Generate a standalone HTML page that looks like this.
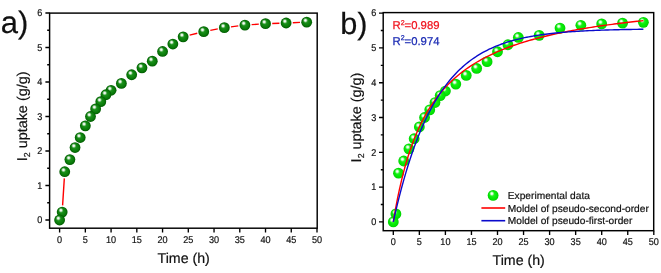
<!DOCTYPE html>
<html><head><meta charset="utf-8"><title>I2 uptake kinetics</title>
<style>html,body{margin:0;padding:0;background:#fff;}svg{display:block;}text{text-rendering:geometricPrecision;font-family:"Liberation Sans", Arial, sans-serif;fill:#111;stroke:#111;stroke-width:0.2px;}</style></head><body>
<svg width="661" height="273" viewBox="0 0 661 273">
<defs>
<radialGradient id="gd" cx="0.5" cy="0.5" r="0.5" fx="0.42" fy="0.38">
<stop offset="0" stop-color="#3aa63a"/><stop offset="0.4" stop-color="#168c16"/><stop offset="0.75" stop-color="#0a7a0a"/><stop offset="1" stop-color="#005a00"/>
</radialGradient>
<radialGradient id="hl"><stop offset="0" stop-color="#fff" stop-opacity="1"/><stop offset="0.35" stop-color="#fff" stop-opacity="0.85"/><stop offset="0.7" stop-color="#fff" stop-opacity="0.3"/><stop offset="1" stop-color="#fff" stop-opacity="0"/></radialGradient>
<g id="sd"><circle r="5.4" fill="url(#gd)"/><circle cx="-1.3" cy="-1.8" r="2.6" fill="url(#hl)"/></g>
<radialGradient id="gl" cx="0.5" cy="0.5" r="0.5" fx="0.42" fy="0.38">
<stop offset="0" stop-color="#3cf53c"/><stop offset="0.5" stop-color="#0aee0a"/><stop offset="0.85" stop-color="#02e002"/><stop offset="1" stop-color="#00cc00"/>
</radialGradient>
<g id="sl"><circle r="5.4" fill="url(#gl)"/><circle cx="-1.3" cy="-1.8" r="2.7" fill="url(#hl)"/></g>
</defs>
<rect width="661" height="273" fill="#ffffff"/>
<rect x="49.60" y="13.10" width="267.60" height="215.10" fill="none" stroke="#000" stroke-width="1.45"/>
<path d="M59.60 228.20v4.2M85.34 228.20v4.2M111.08 228.20v4.2M136.82 228.20v4.2M162.56 228.20v4.2M188.30 228.20v4.2M214.04 228.20v4.2M239.78 228.20v4.2M265.52 228.20v4.2M291.26 228.20v4.2M317.00 228.20v4.2M49.60 220.00h-4.2M49.60 185.50h-4.2M49.60 151.00h-4.2M49.60 116.50h-4.2M49.60 82.00h-4.2M49.60 47.50h-4.2M49.60 13.00h-4.2M49.60 202.75h-2.4M49.60 168.25h-2.4M49.60 133.75h-2.4M49.60 99.25h-2.4M49.60 64.75h-2.4M49.60 30.25h-2.4" stroke="#000" stroke-width="1.35" fill="none"/>
<g font-size="9.8" text-anchor="middle">
<text transform="translate(59.60 242.90) scale(0.93 1)">0</text>
<text transform="translate(85.34 242.90) scale(0.93 1)">5</text>
<text transform="translate(111.08 242.90) scale(0.93 1)">10</text>
<text transform="translate(136.82 242.90) scale(0.93 1)">15</text>
<text transform="translate(162.56 242.90) scale(0.93 1)">20</text>
<text transform="translate(188.30 242.90) scale(0.93 1)">25</text>
<text transform="translate(214.04 242.90) scale(0.93 1)">30</text>
<text transform="translate(239.78 242.90) scale(0.93 1)">35</text>
<text transform="translate(265.52 242.90) scale(0.93 1)">40</text>
<text transform="translate(291.26 242.90) scale(0.93 1)">45</text>
<text transform="translate(317.00 242.90) scale(0.93 1)">50</text>
</g>
<g font-size="9.8" text-anchor="end">
<text transform="translate(42.40 223.23) scale(0.93 1)">0</text>
<text transform="translate(42.40 188.73) scale(0.93 1)">1</text>
<text transform="translate(42.40 154.23) scale(0.93 1)">2</text>
<text transform="translate(42.40 119.73) scale(0.93 1)">3</text>
<text transform="translate(42.40 85.23) scale(0.93 1)">4</text>
<text transform="translate(42.40 50.73) scale(0.93 1)">5</text>
<text transform="translate(42.40 16.23) scale(0.93 1)">6</text>
</g>
<text transform="translate(183.70 262.50) scale(1.0 1)" font-size="14.2" stroke-width="0.3" text-anchor="middle">Time (h)</text>
<text transform="translate(27.30 116.40) rotate(-90) scale(1.015 1)" font-size="14.2" stroke-width="0.3" text-anchor="middle">I<tspan font-size="8.7" dy="3">2</tspan><tspan dy="-3"> uptake (g/g)</tspan></text>
<text x="0.80" y="33.20" font-size="31.0" stroke-width="0.4">a)</text>
<path d="M62.60 205.38L64.32 178.39M189.65 35.17L197.25 33.26M210.32 30.36L217.76 28.93M230.98 26.83L238.28 25.91M251.61 24.63L258.83 24.14M272.22 23.47L279.42 23.23M292.81 22.72L300.01 22.42" stroke="#ff0000" stroke-width="1.4" fill="none"/>
<use href="#sd" x="306.70" y="22.14"/>
<use href="#sd" x="286.11" y="23.00"/>
<use href="#sd" x="265.52" y="23.69"/>
<use href="#sd" x="244.93" y="25.07"/>
<use href="#sd" x="224.34" y="27.66"/>
<use href="#sd" x="203.74" y="31.63"/>
<use href="#sd" x="183.15" y="36.81"/>
<use href="#sd" x="172.86" y="44.05"/>
<use href="#sd" x="162.56" y="51.47"/>
<use href="#sd" x="152.26" y="61.13"/>
<use href="#sd" x="141.97" y="67.85"/>
<use href="#sd" x="131.67" y="74.75"/>
<use href="#sd" x="121.38" y="83.38"/>
<use href="#sd" x="111.08" y="90.28"/>
<use href="#sd" x="105.93" y="94.77"/>
<use href="#sd" x="100.78" y="101.66"/>
<use href="#sd" x="95.64" y="108.91"/>
<use href="#sd" x="90.49" y="116.50"/>
<use href="#sd" x="85.34" y="125.81"/>
<use href="#sd" x="80.19" y="137.55"/>
<use href="#sd" x="75.04" y="147.55"/>
<use href="#sd" x="69.90" y="159.62"/>
<use href="#sd" x="64.75" y="171.70"/>
<use href="#sd" x="62.17" y="212.06"/>
<use href="#sd" x="59.60" y="220.00"/>
<rect x="383.20" y="12.60" width="270.50" height="218.10" fill="none" stroke="#000" stroke-width="1.45"/>
<path d="M393.30 230.70v4.2M419.35 230.70v4.2M445.40 230.70v4.2M471.45 230.70v4.2M497.50 230.70v4.2M523.55 230.70v4.2M549.60 230.70v4.2M575.65 230.70v4.2M601.70 230.70v4.2M627.75 230.70v4.2M653.80 230.70v4.2M383.20 221.90h-4.2M383.20 187.10h-4.2M383.20 152.30h-4.2M383.20 117.50h-4.2M383.20 82.70h-4.2M383.20 47.90h-4.2M383.20 13.10h-4.2M383.20 204.50h-2.4M383.20 169.70h-2.4M383.20 134.90h-2.4M383.20 100.10h-2.4M383.20 65.30h-2.4M383.20 30.50h-2.4" stroke="#000" stroke-width="1.35" fill="none"/>
<g font-size="9.8" text-anchor="middle">
<text transform="translate(393.30 245.40) scale(0.93 1)">0</text>
<text transform="translate(419.35 245.40) scale(0.93 1)">5</text>
<text transform="translate(445.40 245.40) scale(0.93 1)">10</text>
<text transform="translate(471.45 245.40) scale(0.93 1)">15</text>
<text transform="translate(497.50 245.40) scale(0.93 1)">20</text>
<text transform="translate(523.55 245.40) scale(0.93 1)">25</text>
<text transform="translate(549.60 245.40) scale(0.93 1)">30</text>
<text transform="translate(575.65 245.40) scale(0.93 1)">35</text>
<text transform="translate(601.70 245.40) scale(0.93 1)">40</text>
<text transform="translate(627.75 245.40) scale(0.93 1)">45</text>
<text transform="translate(653.80 245.40) scale(0.93 1)">50</text>
</g>
<g font-size="9.8" text-anchor="end">
<text transform="translate(376.20 225.13) scale(0.93 1)">0</text>
<text transform="translate(376.20 190.33) scale(0.93 1)">1</text>
<text transform="translate(376.20 155.53) scale(0.93 1)">2</text>
<text transform="translate(376.20 120.73) scale(0.93 1)">3</text>
<text transform="translate(376.20 85.93) scale(0.93 1)">4</text>
<text transform="translate(376.20 51.13) scale(0.93 1)">5</text>
<text transform="translate(376.20 16.33) scale(0.93 1)">6</text>
</g>
<text transform="translate(518.70 264.90) scale(1.0 1)" font-size="14.2" stroke-width="0.3" text-anchor="middle">Time (h)</text>
<text transform="translate(360.70 117.50) rotate(-90) scale(1.015 1)" font-size="14.2" stroke-width="0.3" text-anchor="middle">I<tspan font-size="8.7" dy="3">2</tspan><tspan dy="-3"> uptake (g/g)</tspan></text>
<text x="340.30" y="34.00" font-size="30.7" stroke-width="0.4">b)</text>
<use href="#sl" x="643.38" y="22.32"/>
<use href="#sl" x="622.54" y="23.19"/>
<use href="#sl" x="601.70" y="23.89"/>
<use href="#sl" x="580.86" y="25.28"/>
<use href="#sl" x="560.02" y="28.06"/>
<use href="#sl" x="539.18" y="35.37"/>
<use href="#sl" x="518.34" y="37.46"/>
<use href="#sl" x="507.92" y="44.77"/>
<use href="#sl" x="497.50" y="51.73"/>
<use href="#sl" x="487.08" y="61.65"/>
<use href="#sl" x="476.66" y="68.43"/>
<use href="#sl" x="466.24" y="75.39"/>
<use href="#sl" x="455.82" y="84.09"/>
<use href="#sl" x="445.40" y="91.05"/>
<use href="#sl" x="440.19" y="95.58"/>
<use href="#sl" x="434.98" y="102.54"/>
<use href="#sl" x="429.77" y="109.84"/>
<use href="#sl" x="424.56" y="117.50"/>
<use href="#sl" x="419.35" y="126.90"/>
<use href="#sl" x="414.14" y="138.73"/>
<use href="#sl" x="408.93" y="148.82"/>
<use href="#sl" x="403.72" y="161.00"/>
<use href="#sl" x="398.51" y="173.18"/>
<use href="#sl" x="395.91" y="213.90"/>
<use href="#sl" x="393.30" y="221.90"/>
<path d="M393.30 221.90L395.38 209.71L397.47 198.74L399.55 188.82L401.64 179.80L403.72 171.56L405.80 164.01L407.89 157.07L409.97 150.65L412.06 144.72L414.14 139.21L416.22 134.08L418.31 129.29L420.39 124.81L422.48 120.61L424.56 116.66L426.64 112.95L428.73 109.45L430.81 106.14L432.90 103.02L434.98 100.05L437.06 97.24L439.15 94.57L441.23 92.03L443.32 89.61L445.40 87.31L447.48 85.11L449.57 83.00L451.65 80.99L453.74 79.07L455.82 77.22L457.90 75.45L459.99 73.75L462.07 72.12L464.16 70.55L466.24 69.03L468.32 67.58L470.41 66.18L472.49 64.82L474.58 63.52L476.66 62.26L478.74 61.04L480.83 59.87L482.91 58.73L485.00 57.63L487.08 56.56L489.16 55.53L491.25 54.53L493.33 53.56L495.42 52.62L497.50 51.70L499.58 50.81L501.67 49.95L503.75 49.11L505.84 48.30L507.92 47.51L510.00 46.74L512.09 45.99L514.17 45.26L516.26 44.55L518.34 43.85L520.42 43.18L522.51 42.52L524.59 41.87L526.68 41.25L528.76 40.64L530.84 40.04L532.93 39.46L535.01 38.89L537.10 38.33L539.18 37.79L541.26 37.25L543.35 36.73L545.43 36.23L547.52 35.73L549.60 35.24L551.68 34.77L553.77 34.30L555.85 33.84L557.94 33.40L560.02 32.96L562.10 32.53L564.19 32.11L566.27 31.70L568.36 31.29L570.44 30.90L572.52 30.51L574.61 30.13L576.69 29.75L578.78 29.38L580.86 29.02L582.94 28.67L585.03 28.32L587.11 27.98L589.20 27.65L591.28 27.32L593.36 27.00L595.45 26.68L597.53 26.37L599.62 26.06L601.70 25.76L603.78 25.46L605.87 25.17L607.95 24.88L610.04 24.60L612.12 24.32L614.20 24.05L616.29 23.78L618.37 23.52L620.46 23.26L622.54 23.00L624.62 22.75L626.71 22.50L628.79 22.26L630.88 22.02L632.96 21.78L635.04 21.54L637.13 21.31L639.21 21.09L641.30 20.86L643.38 20.64" stroke="#ff0000" stroke-width="1.4" fill="none" stroke-linejoin="round"/>
<path d="M393.30 221.90L395.38 212.71L397.47 203.96L399.55 195.63L401.64 187.69L403.72 180.13L405.80 172.93L407.89 166.07L409.97 159.54L412.06 153.31L414.14 147.39L416.22 141.74L418.31 136.37L420.39 131.25L422.48 126.37L424.56 121.73L426.64 117.30L428.73 113.09L430.81 109.07L432.90 105.25L434.98 101.61L437.06 98.14L439.15 94.84L441.23 91.70L443.32 88.70L445.40 85.85L447.48 83.13L449.57 80.54L451.65 78.07L453.74 75.73L455.82 73.49L457.90 71.36L459.99 69.33L462.07 67.40L464.16 65.56L466.24 63.80L468.32 62.13L470.41 60.54L472.49 59.03L474.58 57.59L476.66 56.21L478.74 54.90L480.83 53.66L482.91 52.47L485.00 51.34L487.08 50.26L489.16 49.24L491.25 48.26L493.33 47.33L495.42 46.44L497.50 45.60L499.58 44.79L501.67 44.03L503.75 43.30L505.84 42.60L507.92 41.94L510.00 41.31L512.09 40.71L514.17 40.14L516.26 39.60L518.34 39.08L520.42 38.58L522.51 38.11L524.59 37.67L526.68 37.24L528.76 36.83L530.84 36.44L532.93 36.08L535.01 35.72L537.10 35.39L539.18 35.07L541.26 34.77L543.35 34.48L545.43 34.20L547.52 33.94L549.60 33.69L551.68 33.45L553.77 33.23L555.85 33.01L557.94 32.81L560.02 32.61L562.10 32.42L564.19 32.25L566.27 32.08L568.36 31.92L570.44 31.76L572.52 31.62L574.61 31.48L576.69 31.35L578.78 31.22L580.86 31.10L582.94 30.98L585.03 30.88L587.11 30.77L589.20 30.67L591.28 30.58L593.36 30.49L595.45 30.40L597.53 30.32L599.62 30.24L601.70 30.17L603.78 30.10L605.87 30.03L607.95 29.97L610.04 29.91L612.12 29.85L614.20 29.79L616.29 29.74L618.37 29.69L620.46 29.64L622.54 29.60L624.62 29.56L626.71 29.51L628.79 29.48L630.88 29.44L632.96 29.40L635.04 29.37L637.13 29.34L639.21 29.31L641.30 29.28L643.38 29.25" stroke="#0a0acc" stroke-width="1.4" fill="none" stroke-linejoin="round"/>
<text x="392.5" y="29.2" font-size="11.3" style="fill:#f0141e;stroke:#f0141e;stroke-width:0.25px">R<tspan font-size="7" dy="-4.5">2</tspan><tspan dy="4.5">=0.989</tspan></text>
<text x="392.5" y="44.9" font-size="11.3" style="fill:#1c2cb4;stroke:#1c2cb4;stroke-width:0.25px">R<tspan font-size="7" dy="-4.5">2</tspan><tspan dy="4.5">=0.974</tspan></text>
<use href="#sl" x="493.1" y="195.4"/>
<path d="M481.4 208H505.2" stroke="#ff0000" stroke-width="1.6"/>
<path d="M481.4 220.7H505.2" stroke="#0a0acc" stroke-width="1.6"/>
<g font-size="10.2">
<text x="507.8" y="198.7">Experimental data</text>
<text x="507.8" y="211.6">Moldel of pseudo-second-order</text>
<text x="507.8" y="224.1">Moldel of pseudo-first-order</text>
</g>
</svg></body></html>
